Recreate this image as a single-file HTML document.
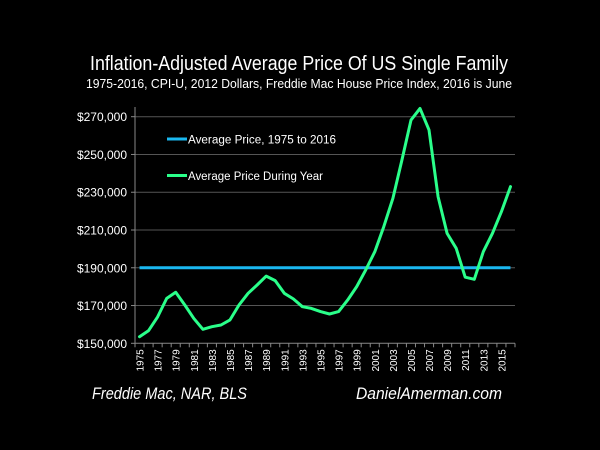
<!DOCTYPE html>
<html><head><meta charset="utf-8"><style>
html,body{margin:0;padding:0;background:#000;}
svg{display:block;}
text{font-family:"Liberation Sans",sans-serif;fill:#fff;}
</style></head><body>
<svg id="chart" width="600" height="450" viewBox="0 0 600 450">
<rect x="0" y="0" width="600" height="450" fill="#000"/>
<text x="299" y="70" font-size="20" text-anchor="middle" textLength="418" lengthAdjust="spacingAndGlyphs">Inflation-Adjusted Average Price Of US Single Family</text>
<text x="299" y="88" font-size="13" text-anchor="middle" textLength="426" lengthAdjust="spacingAndGlyphs">1975-2016, CPI-U, 2012 Dollars, Freddie Mac House Price Index, 2016 is June</text>
<g id="grid"></g><g id="yticks"></g><g id="xticks"></g><g id="series"></g>
<g>
<line x1="167" y1="139" x2="187" y2="139" stroke="#1ab8f0" stroke-width="3"/>
<text x="188" y="143.5" font-size="11.5" textLength="148" lengthAdjust="spacingAndGlyphs">Average Price, 1975 to 2016</text>
<line x1="167" y1="175.5" x2="187" y2="175.5" stroke="#2aff8a" stroke-width="3"/>
<text x="188" y="180" font-size="11.5" textLength="135" lengthAdjust="spacingAndGlyphs">Average Price During Year</text>
</g>
<text x="92" y="399" font-size="17" font-style="italic" textLength="155" lengthAdjust="spacingAndGlyphs">Freddie Mac, NAR, BLS</text>
<text x="356" y="399" font-size="17" font-style="italic" textLength="146" lengthAdjust="spacingAndGlyphs">DanielAmerman.com</text>
</svg>
<script>
const years=[1975,1976,1977,1978,1979,1980,1981,1982,1983,1984,1985,1986,1987,1988,1989,1990,1991,1992,1993,1994,1995,1996,1997,1998,1999,2000,2001,2002,2003,2004,2005,2006,2007,2008,2009,2010,2011,2012,2013,2014,2015,2016];
const prices=[153500,156700,164000,173800,177000,170300,163200,157400,158800,159700,162400,170300,176500,180900,185600,183200,176500,173500,169400,168500,166800,165500,166800,172900,180000,188800,198500,211800,226800,247000,268200,274400,263000,227600,208200,200300,185000,183900,198500,208200,219700,233000];
const averagePrice=[190000];
const yTicks=[150000,170000,190000,210000,230000,250000,270000];
const NS='http://www.w3.org/2000/svg';
const X0=135,X1=515,Y0=343.3,Y1=116.7,VMIN=150000,VMAX=270000;
const bw=(X1-X0)/years.length;
function xs(i){return X0+bw*(i+0.5);}
function ys(v){return Y0-(v-VMIN)/(VMAX-VMIN)*(Y0-Y1);}
function mk(tag,attrs,parent){const e=document.createElementNS(NS,tag);for(const k in attrs)e.setAttribute(k,attrs[k]);parent.appendChild(e);return e;}
const grid=document.getElementById('grid'),yt=document.getElementById('yticks'),xt=document.getElementById('xticks'),ser=document.getElementById('series');
yTicks.forEach(v=>{
  const y=ys(v);
  if(v>VMIN){const l=mk('line',{x1:X0,x2:X1,y1:y,y2:y,stroke:'#555','stroke-width':1},grid);
  
  }
  const tk=mk('line',{x1:X0-4,x2:X0,y1:y,y2:y,stroke:'#888'},yt);
  
  
  const t=mk('text',{x:127,y:y+4.5,'font-size':12,'text-anchor':'end'},yt);
  t.textContent='$'+v.toLocaleString('en-US');
  
  
});
const ax=mk('line',{x1:X0,x2:X0,y1:107,y2:Y0,stroke:'#888'},yt);


const xa=mk('line',{x1:X0,x2:X1,y1:Y0,y2:Y0,stroke:'#888'},xt);


for(let i=0;i<=years.length;i++){
  const x=X0+bw*i;
  const tk=mk('line',{x1:x,x2:x,y1:Y0,y2:Y0+4,stroke:'#888'},xt);
  
  
}
years.forEach((yr,i)=>{
  if(i%2)return;
  const x=xs(i)+4,y=Y0+6;
  const t=mk('text',{x:x,y:y,'font-size':10,'text-anchor':'end',transform:'rotate(-90 '+x+' '+y+')'},xt);
  t.textContent=yr;
  
  
});
const avg=mk('line',{x1:xs(0),x2:xs(years.length-1),y1:ys(averagePrice[0]),y2:ys(averagePrice[0]),stroke:'#1ab8f0','stroke-width':3},ser);


const pts=prices.map((v,i)=>xs(i).toFixed(1)+','+ys(v).toFixed(1)).join(' ');
const pl=mk('polyline',{points:pts,fill:'none',stroke:'#2aff8a','stroke-width':3,'stroke-linejoin':'round','stroke-linecap':'round'},ser);


</script>
</body></html>
